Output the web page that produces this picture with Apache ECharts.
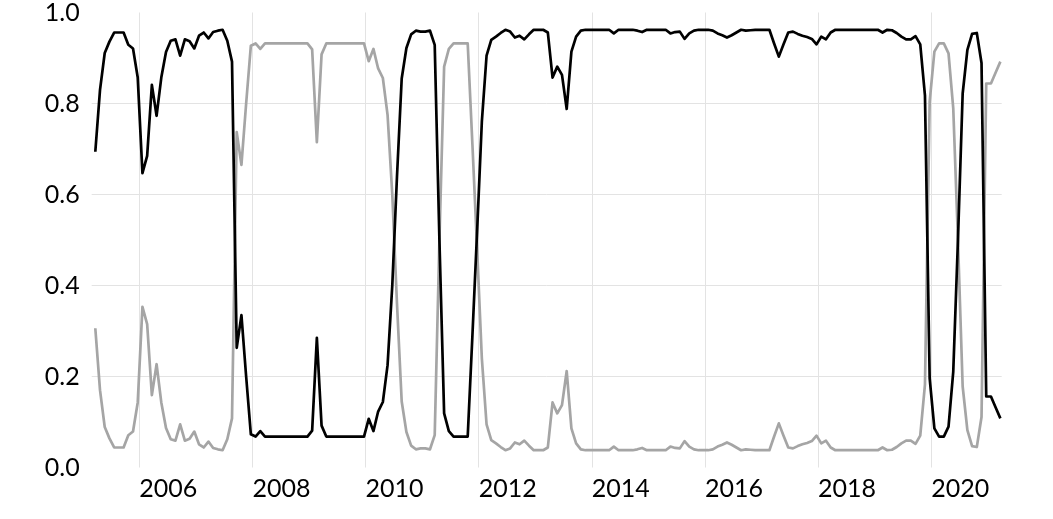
<!DOCTYPE html>
<html>
<head>
<meta charset="utf-8">
<script src="https://cdn.jsdelivr.net/npm/echarts@6/dist/echarts.min.js"></script>
<style>
html,body{margin:0;padding:0;background:#fff;}
#chart{width:1053px;height:519px;}
</style>
</head>
<body>
<div id="chart"></div>
<script>
// Monthly shares (193 observations)
const blackSeries = [
0.694,0.830,0.911,0.936,0.956,0.956,0.956,0.929,0.921,0.857,
0.647,0.685,0.841,0.773,0.857,0.913,0.938,0.941,0.905,0.941,
0.937,0.921,0.949,0.956,0.943,0.957,0.960,0.962,0.938,0.892,
0.263,0.335,0.200,0.073,0.068,0.080,0.068,0.068,0.068,0.068,
0.068,0.068,0.068,0.068,0.068,0.068,0.081,0.285,0.092,0.068,
0.068,0.068,0.068,0.068,0.068,0.068,0.068,0.068,0.107,0.080,
0.123,0.144,0.225,0.400,0.640,0.855,0.922,0.952,0.960,0.958,
0.958,0.960,0.929,0.500,0.119,0.080,0.068,0.068,0.068,0.068,
0.290,0.520,0.760,0.905,0.940,0.947,0.955,0.962,0.958,0.945,
0.949,0.941,0.952,0.962,0.962,0.962,0.956,0.857,0.881,0.863,
0.788,0.914,0.947,0.960,0.962,0.962,0.962,0.962,0.962,0.962,
0.954,0.962,0.962,0.962,0.962,0.960,0.957,0.962,0.962,0.962,
0.962,0.962,0.954,0.957,0.958,0.942,0.954,0.960,0.962,0.962,
0.962,0.960,0.954,0.950,0.945,0.950,0.956,0.962,0.960,0.961,
0.962,0.962,0.962,0.962,0.932,0.903,0.930,0.956,0.958,0.953,
0.949,0.946,0.942,0.930,0.947,0.941,0.956,0.962,0.962,0.962,
0.962,0.962,0.962,0.962,0.962,0.962,0.962,0.956,0.962,0.961,
0.955,0.947,0.941,0.941,0.948,0.930,0.818,0.196,0.086,0.068,
0.068,0.090,0.210,0.500,0.822,0.918,0.953,0.955,0.889,0.156,
0.156,0.132,0.108
];
const graySeries = [
0.306,0.170,0.089,0.064,0.044,0.044,0.044,0.071,0.079,0.143,
0.353,0.315,0.159,0.227,0.143,0.087,0.062,0.059,0.095,0.059,
0.063,0.079,0.051,0.044,0.057,0.043,0.040,0.038,0.062,0.108,
0.737,0.665,0.800,0.927,0.932,0.920,0.932,0.932,0.932,0.932,
0.932,0.932,0.932,0.932,0.932,0.932,0.919,0.715,0.908,0.932,
0.932,0.932,0.932,0.932,0.932,0.932,0.932,0.932,0.893,0.920,
0.877,0.856,0.775,0.600,0.360,0.145,0.078,0.048,0.040,0.042,
0.042,0.040,0.071,0.500,0.881,0.920,0.932,0.932,0.932,0.932,
0.710,0.480,0.240,0.095,0.060,0.053,0.045,0.038,0.042,0.055,
0.051,0.059,0.048,0.038,0.038,0.038,0.044,0.143,0.119,0.137,
0.212,0.086,0.053,0.040,0.038,0.038,0.038,0.038,0.038,0.038,
0.046,0.038,0.038,0.038,0.038,0.040,0.043,0.038,0.038,0.038,
0.038,0.038,0.046,0.043,0.042,0.058,0.046,0.040,0.038,0.038,
0.038,0.040,0.046,0.050,0.055,0.050,0.044,0.038,0.040,0.039,
0.038,0.038,0.038,0.038,0.068,0.097,0.070,0.044,0.042,0.047,
0.051,0.054,0.058,0.070,0.053,0.059,0.044,0.038,0.038,0.038,
0.038,0.038,0.038,0.038,0.038,0.038,0.038,0.044,0.038,0.039,
0.045,0.053,0.059,0.059,0.052,0.070,0.182,0.804,0.914,0.932,
0.932,0.910,0.790,0.500,0.178,0.082,0.047,0.045,0.111,0.844,
0.844,0.868,0.892
];
const yearLabels = ['2006','2008','2010','2012','2014','2016','2018','2020'];
const yTickLabels = ['0.0','0.2','0.4','0.6','0.8','1.0'];

// x axis is in month-index units; year boundaries fall at month 9.33 + 24k
const firstYearMonth = 9.33;
const monthsPerLabel = 24;
const yearTicks = yearLabels.map((_, k) => firstYearMonth + k * monthsPerLabel);

const chart = echarts.init(document.getElementById('chart'), null, {renderer: 'canvas'});
const font = 'Lato, "Open Sans", sans-serif';

chart.setOption({
  animation: false,
  backgroundColor: '#ffffff',
  grid: {left: 91.7, right: 51.3, top: 12.5, bottom: 51.5, containLabel: false, outerBoundsMode: 'none'},
  xAxis: {
    type: 'value',
    min: -0.764,
    max: 192.28,
    axisLine: {show: false},
    axisTick: {show: false, customValues: yearTicks},
    axisLabel: {
      customValues: yearTicks,
      align: 'left',
      margin: 9,
      fontSize: 25,
      fontFamily: font,
      color: '#000',
      formatter: v => yearLabels[Math.round((v - firstYearMonth) / monthsPerLabel)] || ''
    },
    splitLine: {show: true, lineStyle: {color: '#e3e3e3', width: 1}}
  },
  yAxis: {
    type: 'value',
    min: 0, max: 1, interval: 0.2,
    axisLine: {show: false},
    axisTick: {show: false},
    axisLabel: {
      margin: 12,
      fontSize: 25,
      fontFamily: font,
      color: '#000',
      formatter: v => yTickLabels[Math.round(v / 0.2)]
    },
    splitLine: {show: true, showMinLine: false, showMaxLine: false, lineStyle: {color: '#e3e3e3', width: 1}}
  },
  series: [
    {
      type: 'line',
      data: graySeries.map((v, i) => [i, v]),
      showSymbol: false,
      symbol: 'none',
      lineStyle: {color: '#a5a5a5', width: 2.7, join: 'round'},
      z: 2
    },
    {
      type: 'line',
      data: blackSeries.map((v, i) => [i, v]),
      showSymbol: false,
      symbol: 'none',
      lineStyle: {color: '#000000', width: 2.7, join: 'round'},
      z: 3
    }
  ]
});
</script>
</body>
</html>
